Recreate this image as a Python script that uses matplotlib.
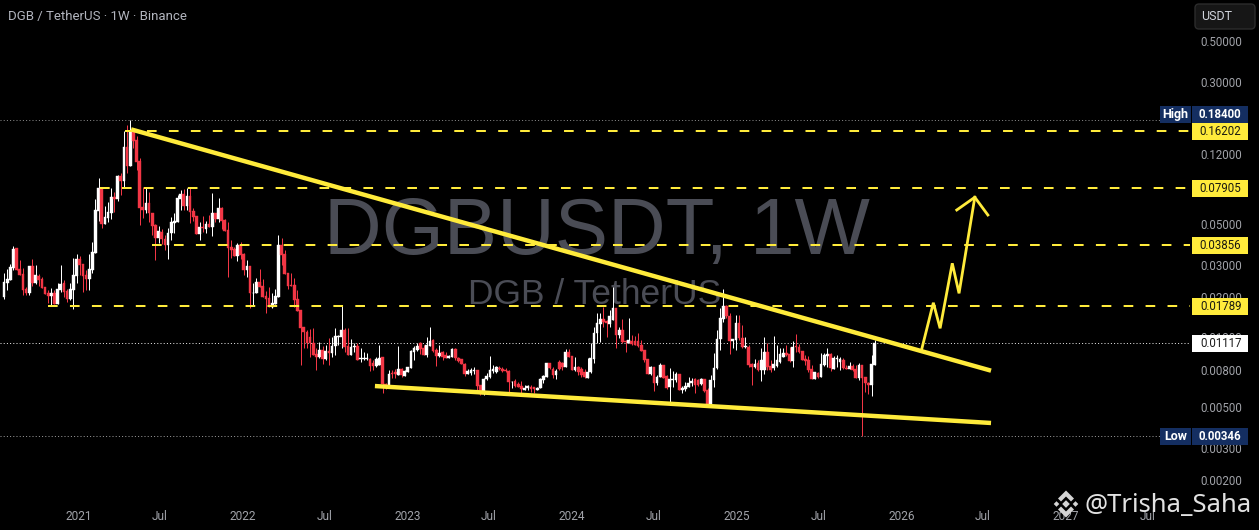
"""Weekly DGB/USDT candles on a dark log chart with hand drawn trend lines."""
import matplotlib
matplotlib.use("Agg")
import matplotlib.dates as mdates
import matplotlib.pyplot as plt
from matplotlib.patches import FancyBboxPatch, Polygon, Rectangle
import pandas as pd

# weekly candles, prices in 1e-5 USDT (tick size of the pair)
opens = [
    2005, 2390, 2472, 2863, 3680, 2840, 2667, 2208, 2091, 2947,
    2390, 2610, 2503, 2274, 2110, 2022, 2091, 1828, 2180, 2380,
    2160, 1945, 2180, 2600, 3232, 3025, 2630, 2503, 2804, 3458,
    5890, 7860, 5000, 5370, 5770, 7020, 6840, 9150, 8590, 13230,
    10410, 15840, 14390, 11040, 6220, 5965, 6510, 5720, 4920, 4210,
    4520, 4140, 3840, 4445, 5065, 5150, 6870, 7295, 6270, 7110,
    5890, 5530, 4410, 4820, 4720, 5000, 4820, 5745, 5300, 6115,
    5260, 4640, 3730, 3650, 3345, 3840, 3430, 2804, 2947, 2091,
    2110, 2410, 2295, 2022, 1960, 1768, 1828, 2005, 3840, 3430,
    2713, 2320, 2310, 1945, 1694, 1374, 1290, 1201, 1114, 974,
    942, 1024, 914, 1011, 990, 1077, 1211, 1211, 1317, 1077,
    962, 1068, 1081, 910, 910, 914, 918, 866, 837, 848,
    934, 668, 651, 770, 777, 751, 810, 741, 780, 820,
    1003, 1024, 1114, 1046, 962, 1077, 1162, 1024, 950, 994,
    962, 930, 934, 1037, 922, 910, 859, 760, 770, 790,
    796, 657, 589, 708, 732, 790, 780, 820, 810, 796,
    790, 681, 693, 668, 651, 619, 632, 640, 640, 619,
    637, 702, 732, 866, 810, 748, 885, 873, 823, 1003,
    950, 796, 823, 803, 780, 723, 780, 914, 1263, 1422,
    1506, 1482, 1422, 1494, 1730, 1237, 1317, 1148, 1114, 1152,
    1148, 1148, 1091, 1024, 910, 757, 823, 679, 726, 848,
    741, 646, 702, 702, 757, 619, 624, 646, 673, 711,
    702, 668, 708, 619, 513, 702, 813, 1172, 1506, 1781,
    1570, 1152, 1162, 1433, 1186, 1059, 1059, 859, 823, 866,
    796, 796, 1003, 837, 813, 837, 885, 942, 982, 974,
    896, 1077, 1068, 1011, 910, 903, 803, 711, 770, 732,
    848, 954, 970, 803, 914, 885, 903, 820, 806, 837,
    803, 723, 848, 726, 673, 660, 852,
]
closes = [
    2420, 2503, 2900, 3650, 2804, 2630, 2180, 2110, 2947, 2390,
    2630, 2472, 2245, 2074, 2030, 2110, 1820, 2208, 2350, 2135,
    1945, 2200, 2630, 3232, 2985, 2610, 2490, 2840, 3500, 5965,
    7860, 5000, 5483, 5840, 7020, 6840, 9150, 8590, 13230, 10410,
    15840, 14270, 10950, 6150, 5965, 6510, 5720, 4900, 4210, 4600,
    4125, 3840, 4445, 5130, 5195, 6960, 7295, 6270, 7110, 5840,
    5483, 4410, 4838, 4780, 5000, 4800, 5745, 5300, 6115, 5215,
    4600, 3710, 3604, 3345, 3840, 3370, 2804, 2947, 2110, 2110,
    2410, 2274, 2005, 1945, 1760, 1850, 2022, 3840, 3385, 2667,
    2302, 2302, 1921, 1670, 1356, 1290, 1114, 1114, 962, 934,
    1024, 914, 1011, 990, 1077, 1221, 1221, 1317, 1068, 962,
    1068, 1081, 903, 922, 926, 926, 837, 837, 910, 926,
    668, 651, 754, 757, 757, 806, 748, 783, 823, 1015,
    1046, 1081, 1033, 962, 1091, 1152, 1011, 950, 986, 934,
    930, 950, 1037, 922, 896, 855, 754, 783, 796, 796,
    651, 589, 708, 738, 796, 803, 823, 803, 786, 786,
    687, 687, 654, 646, 624, 637, 651, 629, 624, 637,
    708, 738, 866, 813, 748, 790, 803, 823, 998, 942,
    796, 823, 780, 748, 732, 780, 922, 1263, 1433, 1506,
    1464, 1433, 1570, 1730, 1237, 1317, 1138, 1128, 1162, 1105,
    1091, 1081, 1015, 903, 757, 823, 679, 732, 848, 723,
    632, 708, 714, 757, 619, 632, 651, 679, 693, 660,
    660, 711, 614, 520, 702, 813, 1172, 1526, 1781, 1570,
    1148, 1172, 1433, 1186, 1068, 1081, 848, 830, 859, 796,
    903, 1003, 823, 796, 859, 903, 978, 990, 962, 896,
    1068, 1059, 1003, 903, 896, 796, 708, 774, 732, 859,
    962, 970, 813, 922, 922, 914, 813, 806, 837, 796,
    723, 848, 723, 673, 660, 859, 1117,
]
highs = [
    2689, 2827, 3025, 3793, 3680, 3180, 2863, 2274, 2947, 3220,
    2985, 2667, 2578, 2274, 2180, 2245, 2180, 2390, 2985, 2472,
    2200, 2370, 3250, 3430, 3345, 3025, 2804, 3430, 3970, 6840,
    8880, 7860, 6270, 6570, 7890, 7450, 9270, 9460, 16110, 17380,
    18400, 16660, 15130, 11420, 7940, 7830, 7450, 5770, 5000, 4880,
    4680, 4355, 4740, 5483, 5720, 7200, 7670, 7735, 7830, 7830,
    6090, 5530, 5150, 5530, 5215, 5600, 7355, 5770, 6905, 6170,
    5300, 5130, 4090, 3761, 3922, 3970, 3458, 3180, 2947, 2370,
    2525, 2840, 2490, 2152, 2274, 2091, 2208, 4355, 4175, 3604,
    2713, 2713, 2525, 2180, 1694, 1374, 1317, 1328, 1345, 1046,
    1138, 1081, 1091, 1186, 1211, 1345, 1237, 1804, 1356, 1345,
    1172, 1114, 1114, 1046, 1003, 982, 922, 903, 942, 1091,
    942, 673, 796, 796, 803, 1077, 813, 796, 823, 1024,
    1077, 1114, 1138, 1091, 1211, 1374, 1172, 1046, 1091, 1011,
    1003, 962, 1046, 1055, 934, 914, 866, 803, 813, 823,
    796, 660, 717, 764, 950, 848, 837, 837, 830, 813,
    796, 693, 711, 687, 696, 660, 660, 657, 640, 640,
    723, 748, 873, 873, 823, 803, 903, 885, 1033, 1033,
    950, 934, 837, 830, 803, 922, 1114, 1374, 1625, 1625,
    1767, 1494, 1694, 2272, 1730, 1362, 1506, 1162, 1526, 1237,
    1221, 1263, 1162, 1024, 914, 837, 830, 748, 873, 848,
    748, 813, 790, 780, 757, 651, 687, 732, 717, 723,
    708, 717, 711, 632, 748, 982, 1317, 1730, 2195, 1804,
    1625, 1172, 1592, 1592, 1403, 1201, 1091, 866, 914, 903,
    1046, 1201, 1114, 903, 1221, 1091, 1046, 1046, 1091, 1068,
    1148, 1253, 1105, 1015, 962, 950, 848, 780, 774, 982,
    982, 1046, 982, 950, 962, 934, 922, 848, 885, 859,
    848, 866, 848, 732, 687, 962, 1162,
]
lows = [
    1945, 2180, 2472, 2804, 2804, 2630, 2048, 2048, 2048, 2295,
    2350, 2295, 2245, 2074, 1843, 1805, 1820, 1828, 2135, 2005,
    1880, 1921, 1715, 2390, 2630, 2135, 2180, 2180, 2713, 3458,
    5215, 4760, 5000, 5150, 5320, 5840, 6660, 7200, 7998, 9540,
    10410, 13070, 9865, 4940, 5420, 5720, 5110, 4355, 3180, 3922,
    3890, 3604, 3220, 4090, 4445, 5150, 5965, 5965, 5965, 5090,
    5215, 4410, 4090, 4500, 4445, 4800, 4300, 5150, 5150, 4700,
    4600, 2578, 3250, 3345, 3155, 3205, 2630, 2578, 1745, 1805,
    2110, 2274, 2005, 1625, 1760, 1745, 1828, 1988, 2985, 2667,
    2208, 2302, 1768, 1670, 848, 1046, 1046, 942, 962, 796,
    922, 859, 903, 848, 942, 962, 1091, 1046, 1003, 962,
    962, 1003, 903, 885, 903, 903, 790, 796, 830, 848,
    599, 624, 646, 717, 717, 748, 732, 741, 780, 820,
    903, 1015, 974, 962, 934, 1077, 1003, 841, 934, 903,
    930, 922, 934, 903, 885, 855, 741, 754, 748, 757,
    594, 584, 584, 702, 717, 764, 770, 796, 780, 780,
    599, 632, 640, 640, 594, 619, 619, 606, 599, 619,
    632, 679, 732, 803, 717, 711, 796, 796, 823, 934,
    796, 790, 748, 732, 717, 717, 770, 866, 1114, 1138,
    1374, 1201, 1374, 1494, 1055, 1186, 1114, 1003, 1114, 1091,
    1091, 1068, 1015, 885, 757, 748, 612, 660, 726, 717,
    624, 528, 646, 687, 619, 599, 614, 640, 651, 599,
    651, 660, 606, 513, 498, 640, 803, 1024, 1464, 1526,
    970, 1046, 1024, 1162, 1046, 1046, 823, 660, 813, 790,
    693, 757, 796, 780, 796, 823, 866, 934, 950, 885,
    830, 1003, 990, 903, 848, 780, 708, 708, 717, 732,
    837, 830, 790, 803, 823, 796, 803, 803, 803, 790,
    717, 702, 346, 606, 589, 574, 848,
]
first_week = "2020-07-20"

y_ticks = [0.5, 0.3, 0.12, 0.05, 0.03, 0.02, 0.012, 0.008, 0.005, 0.003, 0.002]
x_tick_dates = ["2021-01-01", "2021-07-01", "2022-01-01", "2022-07-01", "2023-01-01",
                "2023-07-01", "2024-01-01", "2024-07-01", "2025-01-01", "2025-07-01",
                "2026-01-01", "2026-07-01", "2027-01-01", "2027-07-01"]
x_tick_labels = ["2021", "Jul", "2022", "Jul", "2023", "Jul", "2024", "Jul", "2025", "Jul",
                 "2026", "Jul", "2027", "Jul"]

# horizontal levels and where each one starts
level_prices = [0.16202, 0.07905, 0.03856, 0.01789]
level_starts = ["2021-04-15", "2021-02-19", "2021-06-14", "2020-10-26"]
level_end = "2027-10-03"
high_price, last_price, low_price = 0.184, 0.01117, 0.00346

# drawn lines: (dates, prices)
upper_dates = ["2021-04-28", "2026-07-19"]
upper_prices = [0.1645, 0.0079]
lower_dates = ["2022-10-21", "2026-07-19"]
lower_prices = [0.00651, 0.00409]
path_dates = ["2026-02-15", "2026-03-13", "2026-03-28", "2026-04-24", "2026-05-09", "2026-06-13"]
path_prices = [0.0103, 0.01857, 0.01346, 0.0305, 0.0209, 0.07]
head_dates = ["2026-05-04", "2026-06-13", "2026-07-12"]
head_prices = [0.05965, 0.07, 0.056]

BG = "#000000"
UP = "#ffffff"
DOWN = "#f23645"
YELLOW = "#ffeb3b"
NAVY = "#142e61"
AXIS_TEXT = "#a0a2a8"
WIDTH, HEIGHT = 1259, 530
PX_PER_DAY = 0.4507
FIRST_PX = 4.0


def dn(dates):
    return mdates.date2num(pd.to_datetime(dates))


plt.rcParams["font.family"] = ["Roboto", "DejaVu Sans"]
fig = plt.figure(figsize=(WIDTH / 100, HEIGHT / 100), dpi=100, facecolor=BG)
ax = fig.add_axes([0, 0, 1, 1], facecolor=BG)
ax.set_yscale("log")

n = len(opens)
assert n == len(closes) == len(highs) == len(lows)
start = dn([first_week])[0]
xs = dn(pd.date_range(first_week, periods=n, freq="7D"))
colors = [UP if c >= o else DOWN for o, c in zip(opens, closes)]
o = [v / 1e5 for v in opens]
c = [v / 1e5 for v in closes]
h = [v / 1e5 for v in highs]
l = [v / 1e5 for v in lows]

ax.vlines(xs, l, h, colors=colors, linewidth=0.72, zorder=3)
ax.bar(xs, [abs(a - b) for a, b in zip(o, c)], bottom=[min(a, b) for a, b in zip(o, c)],
       width=6.0, color=colors, edgecolor=colors, linewidth=0.3, zorder=4)

# dotted price markers
for price, color, end_px in [(high_price, "#8a8a8a", 1160), (last_price, "#e8e8e8", 1190),
                             (low_price, "#9a9a9a", 1160)]:
    ax.plot([0, end_px / WIDTH], [price, price], transform=ax.get_yaxis_transform(),
            color=color, linewidth=0.72, linestyle=(0, (1, 2.2)), zorder=2)

for price, begin in zip(level_prices, level_starts):
    ax.plot(dn([begin, level_end]), [price, price], color=YELLOW, linewidth=1.45,
            linestyle=(0, (4.8, 6.1)), dash_capstyle="butt", zorder=5)

ax.plot(dn(upper_dates), upper_prices, color=YELLOW, linewidth=3.2, solid_capstyle="butt", zorder=6)
ax.plot(dn(lower_dates), lower_prices, color=YELLOW, linewidth=3.2, solid_capstyle="butt", zorder=6)
ax.plot(dn(path_dates), path_prices, color=YELLOW, linewidth=2.0, solid_joinstyle="miter", zorder=6)
ax.plot(dn(head_dates), head_prices, color=YELLOW, linewidth=2.0, solid_joinstyle="miter", zorder=6)

ax.set_xlim(start - FIRST_PX / PX_PER_DAY, start + (WIDTH - FIRST_PX) / PX_PER_DAY)
ax.set_ylim(0.001064, 0.8376)

ax.yaxis.tick_right()
ax.set_yticks(y_ticks)
ax.set_yticklabels([f"{v:.5f}" for v in y_ticks])
ax.minorticks_off()
ax.tick_params(axis="y", length=0, pad=-42.5, labelsize=8.3, labelcolor=AXIS_TEXT)
ax.set_xticks(dn(x_tick_dates))
ax.set_xticklabels(x_tick_labels)
ax.tick_params(axis="x", length=0, pad=-14.5, labelsize=8.6, labelcolor=AXIS_TEXT)
for spine in ax.spines.values():
    spine.set_visible(False)

# overlay in pixel coordinates for the chart furniture
ui = fig.add_axes([0, 0, 1, 1], facecolor="none", zorder=10)
ui.set_xlim(0, WIDTH)
ui.set_ylim(HEIGHT, 0)
ui.axis("off")

# symbol watermark sits behind the candles
ax.text(597, 254, "DGBUSDT, 1W", transform=ui.transData, ha="center", va="baseline",
        family=["Liberation Sans"], fontsize=57.5, color="#4a4c55", zorder=0)
ax.text(595, 304, "DGB / TetherUS", transform=ui.transData, ha="center", va="baseline",
        family=["Liberation Sans"], fontsize=25.5, color="#4a4c55", zorder=0)

ui.text(8, 16.5, "DGB / TetherUS · 1W · Binance", ha="left", va="center", fontsize=9.5, color="#b2b5be")

ui.add_patch(FancyBboxPatch((1195, 4), 60, 25, boxstyle="round,pad=0,rounding_size=4",
                            facecolor="#161616", edgecolor="#2c2c2c", linewidth=1))
ui.text(1217, 17, "USDT", ha="center", va="center", fontsize=9, color="#d1d4dc")


def price_label(top, text, face, color, weight="normal"):
    ui.add_patch(Rectangle((1192, top), 56, 17, facecolor=face, edgecolor="none"))
    ui.text(1241.5, top + 8.7, text, ha="right", va="center", fontsize=8.3, color=color, fontweight=weight)


price_label(106, "0.18400", NAVY, "#ffffff", "bold")
price_label(123, "0.16202", YELLOW, "#1a1a10")
price_label(180, "0.07905", YELLOW, "#1a1a10")
price_label(237, "0.03856", YELLOW, "#1a1a10")
price_label(298, "0.01789", YELLOW, "#1a1a10")
price_label(335, "0.01117", "#ffffff", "#1a1a1a")
price_label(428, "0.00346", NAVY, "#ffffff", "bold")
for top, word in [(106, "High"), (428, "Low")]:
    ui.add_patch(Rectangle((1160, top), 31, 17, facecolor=NAVY, edgecolor="none"))
    ui.text(1175.5, top + 8.7, word, ha="center", va="center", fontsize=9, color="#ffffff", fontweight="bold")

# exchange logo and author mark
LOGO = "#d4d4d4"
for cx, cy, r in [(1066, 504, 3.8), (1056.5, 504, 2.8), (1075.5, 504, 2.8)]:
    ui.add_patch(Polygon([(cx, cy - r), (cx + r, cy), (cx, cy + r), (cx - r, cy)], facecolor=LOGO, edgecolor="none"))
for sign in (-1, 1):
    cy = 504 + sign * 13.5
    ui.add_patch(Polygon([(1066, cy), (1074, cy - sign * 8), (1071, cy - sign * 11), (1066, cy - sign * 6),
                          (1061, cy - sign * 11), (1058, cy - sign * 8)], facecolor=LOGO, edgecolor="none"))
ui.text(1085, 505, "@Trisha_Saha", ha="left", va="center", fontsize=18.5, color="#e2e2e2", family=["Noto Sans"])

fig.savefig("out.png", dpi=100, facecolor=BG)
plt.close(fig)
